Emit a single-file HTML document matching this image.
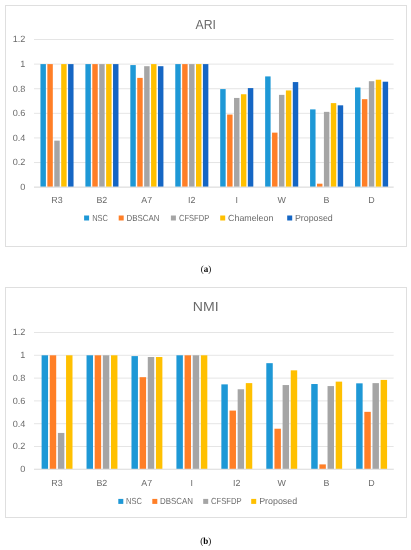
<!DOCTYPE html>
<html><head><meta charset="utf-8"><title>Figure</title>
<style>html,body{margin:0;padding:0;background:#fff;}svg{display:block;font-family:"Liberation Sans", Arial, sans-serif;text-rendering:geometricPrecision;}.cap{font-family:"Liberation Serif", "DejaVu Serif", serif;}</style>
</head><body>
<svg width="411" height="550" viewBox="0 0 411 550">
<rect x="0" y="0" width="411" height="550" fill="#fff"/>
<rect x="5.5" y="5.5" width="401" height="241" fill="#fff" stroke="#DFDFDF" stroke-width="1"/>
<line x1="34" x2="393.6" y1="39.50" y2="39.50" stroke="#DCDCDC" stroke-width="0.75"/>
<text x="25.3" y="42.30" text-anchor="end" font-size="9.1" fill="#6a6a6a">1.2</text>
<line x1="34" x2="393.6" y1="64.11" y2="64.11" stroke="#DCDCDC" stroke-width="0.75"/>
<text x="25.3" y="66.91" text-anchor="end" font-size="9.1" fill="#6a6a6a">1</text>
<line x1="34" x2="393.6" y1="88.72" y2="88.72" stroke="#DCDCDC" stroke-width="0.75"/>
<text x="25.3" y="91.52" text-anchor="end" font-size="9.1" fill="#6a6a6a">0.8</text>
<line x1="34" x2="393.6" y1="113.33" y2="113.33" stroke="#DCDCDC" stroke-width="0.75"/>
<text x="25.3" y="116.12" text-anchor="end" font-size="9.1" fill="#6a6a6a">0.6</text>
<line x1="34" x2="393.6" y1="137.93" y2="137.93" stroke="#DCDCDC" stroke-width="0.75"/>
<text x="25.3" y="140.73" text-anchor="end" font-size="9.1" fill="#6a6a6a">0.4</text>
<line x1="34" x2="393.6" y1="162.54" y2="162.54" stroke="#DCDCDC" stroke-width="0.75"/>
<text x="25.3" y="165.34" text-anchor="end" font-size="9.1" fill="#6a6a6a">0.2</text>
<line x1="34" x2="393.6" y1="187.15" y2="187.15" stroke="#DCDCDC" stroke-width="0.75"/>
<text x="25.3" y="189.95" text-anchor="end" font-size="9.1" fill="#6a6a6a">0</text>
<text x="205.7" y="28.7" text-anchor="middle" font-size="13.2" fill="#6a6a6a" textLength="20.4" lengthAdjust="spacingAndGlyphs">ARI</text>
<rect x="40.45" y="64.11" width="5.45" height="122.64" fill="#1E98D6"/>
<rect x="47.36" y="64.11" width="5.45" height="122.64" fill="#FF7F27"/>
<rect x="54.27" y="140.64" width="5.45" height="46.11" fill="#A5A5A5"/>
<rect x="61.18" y="64.11" width="5.45" height="122.64" fill="#FFC000"/>
<rect x="68.09" y="64.11" width="5.45" height="122.64" fill="#1566C4"/>
<rect x="85.39" y="64.11" width="5.45" height="122.64" fill="#1E98D6"/>
<rect x="92.30" y="64.11" width="5.45" height="122.64" fill="#FF7F27"/>
<rect x="99.21" y="64.11" width="5.45" height="122.64" fill="#A5A5A5"/>
<rect x="106.12" y="64.11" width="5.45" height="122.64" fill="#FFC000"/>
<rect x="113.03" y="64.11" width="5.45" height="122.64" fill="#1566C4"/>
<rect x="130.33" y="65.09" width="5.45" height="121.66" fill="#1E98D6"/>
<rect x="137.24" y="77.89" width="5.45" height="108.86" fill="#FF7F27"/>
<rect x="144.15" y="66.20" width="5.45" height="120.55" fill="#A5A5A5"/>
<rect x="151.06" y="64.11" width="5.45" height="122.64" fill="#FFC000"/>
<rect x="157.97" y="66.20" width="5.45" height="120.55" fill="#1566C4"/>
<rect x="175.27" y="64.11" width="5.45" height="122.64" fill="#1E98D6"/>
<rect x="182.18" y="64.11" width="5.45" height="122.64" fill="#FF7F27"/>
<rect x="189.09" y="64.11" width="5.45" height="122.64" fill="#A5A5A5"/>
<rect x="196.00" y="64.11" width="5.45" height="122.64" fill="#FFC000"/>
<rect x="202.91" y="64.11" width="5.45" height="122.64" fill="#1566C4"/>
<rect x="220.21" y="89.09" width="5.45" height="97.66" fill="#1E98D6"/>
<rect x="227.12" y="114.56" width="5.45" height="72.19" fill="#FF7F27"/>
<rect x="234.03" y="97.94" width="5.45" height="88.81" fill="#A5A5A5"/>
<rect x="240.94" y="94.25" width="5.45" height="92.50" fill="#FFC000"/>
<rect x="247.85" y="88.10" width="5.45" height="98.65" fill="#1566C4"/>
<rect x="265.15" y="76.41" width="5.45" height="110.34" fill="#1E98D6"/>
<rect x="272.06" y="132.64" width="5.45" height="54.11" fill="#FF7F27"/>
<rect x="278.97" y="94.87" width="5.45" height="91.88" fill="#A5A5A5"/>
<rect x="285.88" y="90.44" width="5.45" height="96.31" fill="#FFC000"/>
<rect x="292.79" y="82.07" width="5.45" height="104.68" fill="#1566C4"/>
<rect x="310.09" y="109.39" width="5.45" height="77.36" fill="#1E98D6"/>
<rect x="317.00" y="183.70" width="5.45" height="3.05" fill="#FF7F27"/>
<rect x="323.91" y="111.85" width="5.45" height="74.90" fill="#A5A5A5"/>
<rect x="330.82" y="103.11" width="5.45" height="83.64" fill="#FFC000"/>
<rect x="337.73" y="105.33" width="5.45" height="81.42" fill="#1566C4"/>
<rect x="355.03" y="87.49" width="5.45" height="99.26" fill="#1E98D6"/>
<rect x="361.94" y="99.18" width="5.45" height="87.57" fill="#FF7F27"/>
<rect x="368.85" y="81.21" width="5.45" height="105.54" fill="#A5A5A5"/>
<rect x="375.76" y="79.73" width="5.45" height="107.02" fill="#FFC000"/>
<rect x="382.67" y="81.70" width="5.45" height="105.05" fill="#1566C4"/>
<line x1="34" x2="393.6" y1="187.15" y2="187.15" stroke="#DCDCDC" stroke-width="0.75"/>
<text x="56.9" y="203.4" text-anchor="middle" font-size="8.9" fill="#6a6a6a">R3</text>
<text x="101.84" y="203.4" text-anchor="middle" font-size="8.9" fill="#6a6a6a">B2</text>
<text x="146.78" y="203.4" text-anchor="middle" font-size="8.9" fill="#6a6a6a">A7</text>
<text x="191.72" y="203.4" text-anchor="middle" font-size="8.9" fill="#6a6a6a">I2</text>
<text x="236.66" y="203.4" text-anchor="middle" font-size="8.9" fill="#6a6a6a">I</text>
<text x="281.59999999999997" y="203.4" text-anchor="middle" font-size="8.9" fill="#6a6a6a">W</text>
<text x="326.53999999999996" y="203.4" text-anchor="middle" font-size="8.9" fill="#6a6a6a">B</text>
<text x="371.47999999999996" y="203.4" text-anchor="middle" font-size="8.9" fill="#6a6a6a">D</text>
<rect x="84.1" y="215.5" width="5" height="5" fill="#1E98D6"/>
<text x="92.2" y="221.0" font-size="8.9" fill="#6a6a6a" textLength="15.8" lengthAdjust="spacingAndGlyphs">NSC</text>
<rect x="118.7" y="215.5" width="5" height="5" fill="#FF7F27"/>
<text x="126.6" y="221.0" font-size="8.9" fill="#6a6a6a" textLength="33" lengthAdjust="spacingAndGlyphs">DBSCAN</text>
<rect x="170.9" y="215.5" width="5" height="5" fill="#A5A5A5"/>
<text x="179" y="221.0" font-size="8.9" fill="#6a6a6a" textLength="30.2" lengthAdjust="spacingAndGlyphs">CFSFDP</text>
<rect x="220.2" y="215.5" width="5" height="5" fill="#FFC000"/>
<text x="228.1" y="221.0" font-size="8.9" fill="#6a6a6a" textLength="45.2" lengthAdjust="spacingAndGlyphs">Chameleon</text>
<rect x="287.2" y="215.5" width="5" height="5" fill="#1566C4"/>
<text x="294.9" y="221.0" font-size="8.9" fill="#6a6a6a" textLength="37.9" lengthAdjust="spacingAndGlyphs">Proposed</text>
<rect x="5.5" y="287.5" width="401" height="230" fill="#fff" stroke="#DFDFDF" stroke-width="1"/>
<line x1="34" x2="393.6" y1="332.50" y2="332.50" stroke="#DCDCDC" stroke-width="0.75"/>
<text x="25.3" y="335.30" text-anchor="end" font-size="9.1" fill="#6a6a6a">1.2</text>
<line x1="34" x2="393.6" y1="355.30" y2="355.30" stroke="#DCDCDC" stroke-width="0.75"/>
<text x="25.3" y="358.10" text-anchor="end" font-size="9.1" fill="#6a6a6a">1</text>
<line x1="34" x2="393.6" y1="378.10" y2="378.10" stroke="#DCDCDC" stroke-width="0.75"/>
<text x="25.3" y="380.90" text-anchor="end" font-size="9.1" fill="#6a6a6a">0.8</text>
<line x1="34" x2="393.6" y1="400.90" y2="400.90" stroke="#DCDCDC" stroke-width="0.75"/>
<text x="25.3" y="403.70" text-anchor="end" font-size="9.1" fill="#6a6a6a">0.6</text>
<line x1="34" x2="393.6" y1="423.70" y2="423.70" stroke="#DCDCDC" stroke-width="0.75"/>
<text x="25.3" y="426.50" text-anchor="end" font-size="9.1" fill="#6a6a6a">0.4</text>
<line x1="34" x2="393.6" y1="446.50" y2="446.50" stroke="#DCDCDC" stroke-width="0.75"/>
<text x="25.3" y="449.30" text-anchor="end" font-size="9.1" fill="#6a6a6a">0.2</text>
<line x1="34" x2="393.6" y1="469.30" y2="469.30" stroke="#DCDCDC" stroke-width="0.75"/>
<text x="25.3" y="472.10" text-anchor="end" font-size="9.1" fill="#6a6a6a">0</text>
<text x="205.7" y="310.8" text-anchor="middle" font-size="13.2" fill="#6a6a6a" textLength="25.8" lengthAdjust="spacingAndGlyphs">NMI</text>
<rect x="41.60" y="355.30" width="6.45" height="113.60" fill="#1E98D6"/>
<rect x="49.75" y="355.30" width="6.45" height="113.60" fill="#FF7F27"/>
<rect x="57.90" y="432.93" width="6.45" height="35.97" fill="#A5A5A5"/>
<rect x="66.05" y="355.30" width="6.45" height="113.60" fill="#FFC000"/>
<rect x="86.54" y="355.30" width="6.45" height="113.60" fill="#1E98D6"/>
<rect x="94.69" y="355.30" width="6.45" height="113.60" fill="#FF7F27"/>
<rect x="102.84" y="355.30" width="6.45" height="113.60" fill="#A5A5A5"/>
<rect x="110.99" y="355.30" width="6.45" height="113.60" fill="#FFC000"/>
<rect x="131.48" y="356.10" width="6.45" height="112.80" fill="#1E98D6"/>
<rect x="139.63" y="377.19" width="6.45" height="91.71" fill="#FF7F27"/>
<rect x="147.78" y="357.01" width="6.45" height="111.89" fill="#A5A5A5"/>
<rect x="155.93" y="357.01" width="6.45" height="111.89" fill="#FFC000"/>
<rect x="176.42" y="355.30" width="6.45" height="113.60" fill="#1E98D6"/>
<rect x="184.57" y="355.30" width="6.45" height="113.60" fill="#FF7F27"/>
<rect x="192.72" y="355.30" width="6.45" height="113.60" fill="#A5A5A5"/>
<rect x="200.87" y="355.30" width="6.45" height="113.60" fill="#FFC000"/>
<rect x="221.36" y="384.37" width="6.45" height="84.53" fill="#1E98D6"/>
<rect x="229.51" y="410.59" width="6.45" height="58.31" fill="#FF7F27"/>
<rect x="237.66" y="389.27" width="6.45" height="79.63" fill="#A5A5A5"/>
<rect x="245.81" y="383.12" width="6.45" height="85.78" fill="#FFC000"/>
<rect x="266.30" y="363.17" width="6.45" height="105.73" fill="#1E98D6"/>
<rect x="274.45" y="428.72" width="6.45" height="40.18" fill="#FF7F27"/>
<rect x="282.60" y="385.05" width="6.45" height="83.85" fill="#A5A5A5"/>
<rect x="290.75" y="370.35" width="6.45" height="98.55" fill="#FFC000"/>
<rect x="311.24" y="384.03" width="6.45" height="84.87" fill="#1E98D6"/>
<rect x="319.39" y="464.40" width="6.45" height="4.50" fill="#FF7F27"/>
<rect x="327.54" y="386.08" width="6.45" height="82.82" fill="#A5A5A5"/>
<rect x="335.69" y="381.63" width="6.45" height="87.27" fill="#FFC000"/>
<rect x="356.18" y="383.34" width="6.45" height="85.56" fill="#1E98D6"/>
<rect x="364.33" y="411.84" width="6.45" height="57.06" fill="#FF7F27"/>
<rect x="372.48" y="383.12" width="6.45" height="85.78" fill="#A5A5A5"/>
<rect x="380.63" y="379.92" width="6.45" height="88.98" fill="#FFC000"/>
<line x1="34" x2="393.6" y1="469.30" y2="469.30" stroke="#DCDCDC" stroke-width="0.75"/>
<text x="56.9" y="485.5" text-anchor="middle" font-size="8.9" fill="#6a6a6a">R3</text>
<text x="101.84" y="485.5" text-anchor="middle" font-size="8.9" fill="#6a6a6a">B2</text>
<text x="146.78" y="485.5" text-anchor="middle" font-size="8.9" fill="#6a6a6a">A7</text>
<text x="191.72" y="485.5" text-anchor="middle" font-size="8.9" fill="#6a6a6a">I</text>
<text x="236.66" y="485.5" text-anchor="middle" font-size="8.9" fill="#6a6a6a">I2</text>
<text x="281.59999999999997" y="485.5" text-anchor="middle" font-size="8.9" fill="#6a6a6a">W</text>
<text x="326.53999999999996" y="485.5" text-anchor="middle" font-size="8.9" fill="#6a6a6a">B</text>
<text x="371.47999999999996" y="485.5" text-anchor="middle" font-size="8.9" fill="#6a6a6a">D</text>
<rect x="118.3" y="498.9" width="5" height="5" fill="#1E98D6"/>
<text x="126.1" y="504.3" font-size="8.9" fill="#6a6a6a" textLength="15.8" lengthAdjust="spacingAndGlyphs">NSC</text>
<rect x="152.3" y="498.9" width="5" height="5" fill="#FF7F27"/>
<text x="160.1" y="504.3" font-size="8.9" fill="#6a6a6a" textLength="33" lengthAdjust="spacingAndGlyphs">DBSCAN</text>
<rect x="203.2" y="498.9" width="5" height="5" fill="#A5A5A5"/>
<text x="211" y="504.3" font-size="8.9" fill="#6a6a6a" textLength="30.6" lengthAdjust="spacingAndGlyphs">CFSFDP</text>
<rect x="251.2" y="498.9" width="5" height="5" fill="#FFC000"/>
<text x="259.2" y="504.3" font-size="8.9" fill="#6a6a6a" textLength="38" lengthAdjust="spacingAndGlyphs">Proposed</text>
<text x="206" y="271.9" text-anchor="middle" class="cap" font-size="9.4" fill="#000" textLength="10.5" lengthAdjust="spacingAndGlyphs">(<tspan font-weight="bold">a</tspan>)</text>
<text x="205.8" y="543.7" text-anchor="middle" class="cap" font-size="9.4" fill="#000" textLength="11" lengthAdjust="spacingAndGlyphs">(<tspan font-weight="bold">b</tspan>)</text>
</svg>
</body></html>
